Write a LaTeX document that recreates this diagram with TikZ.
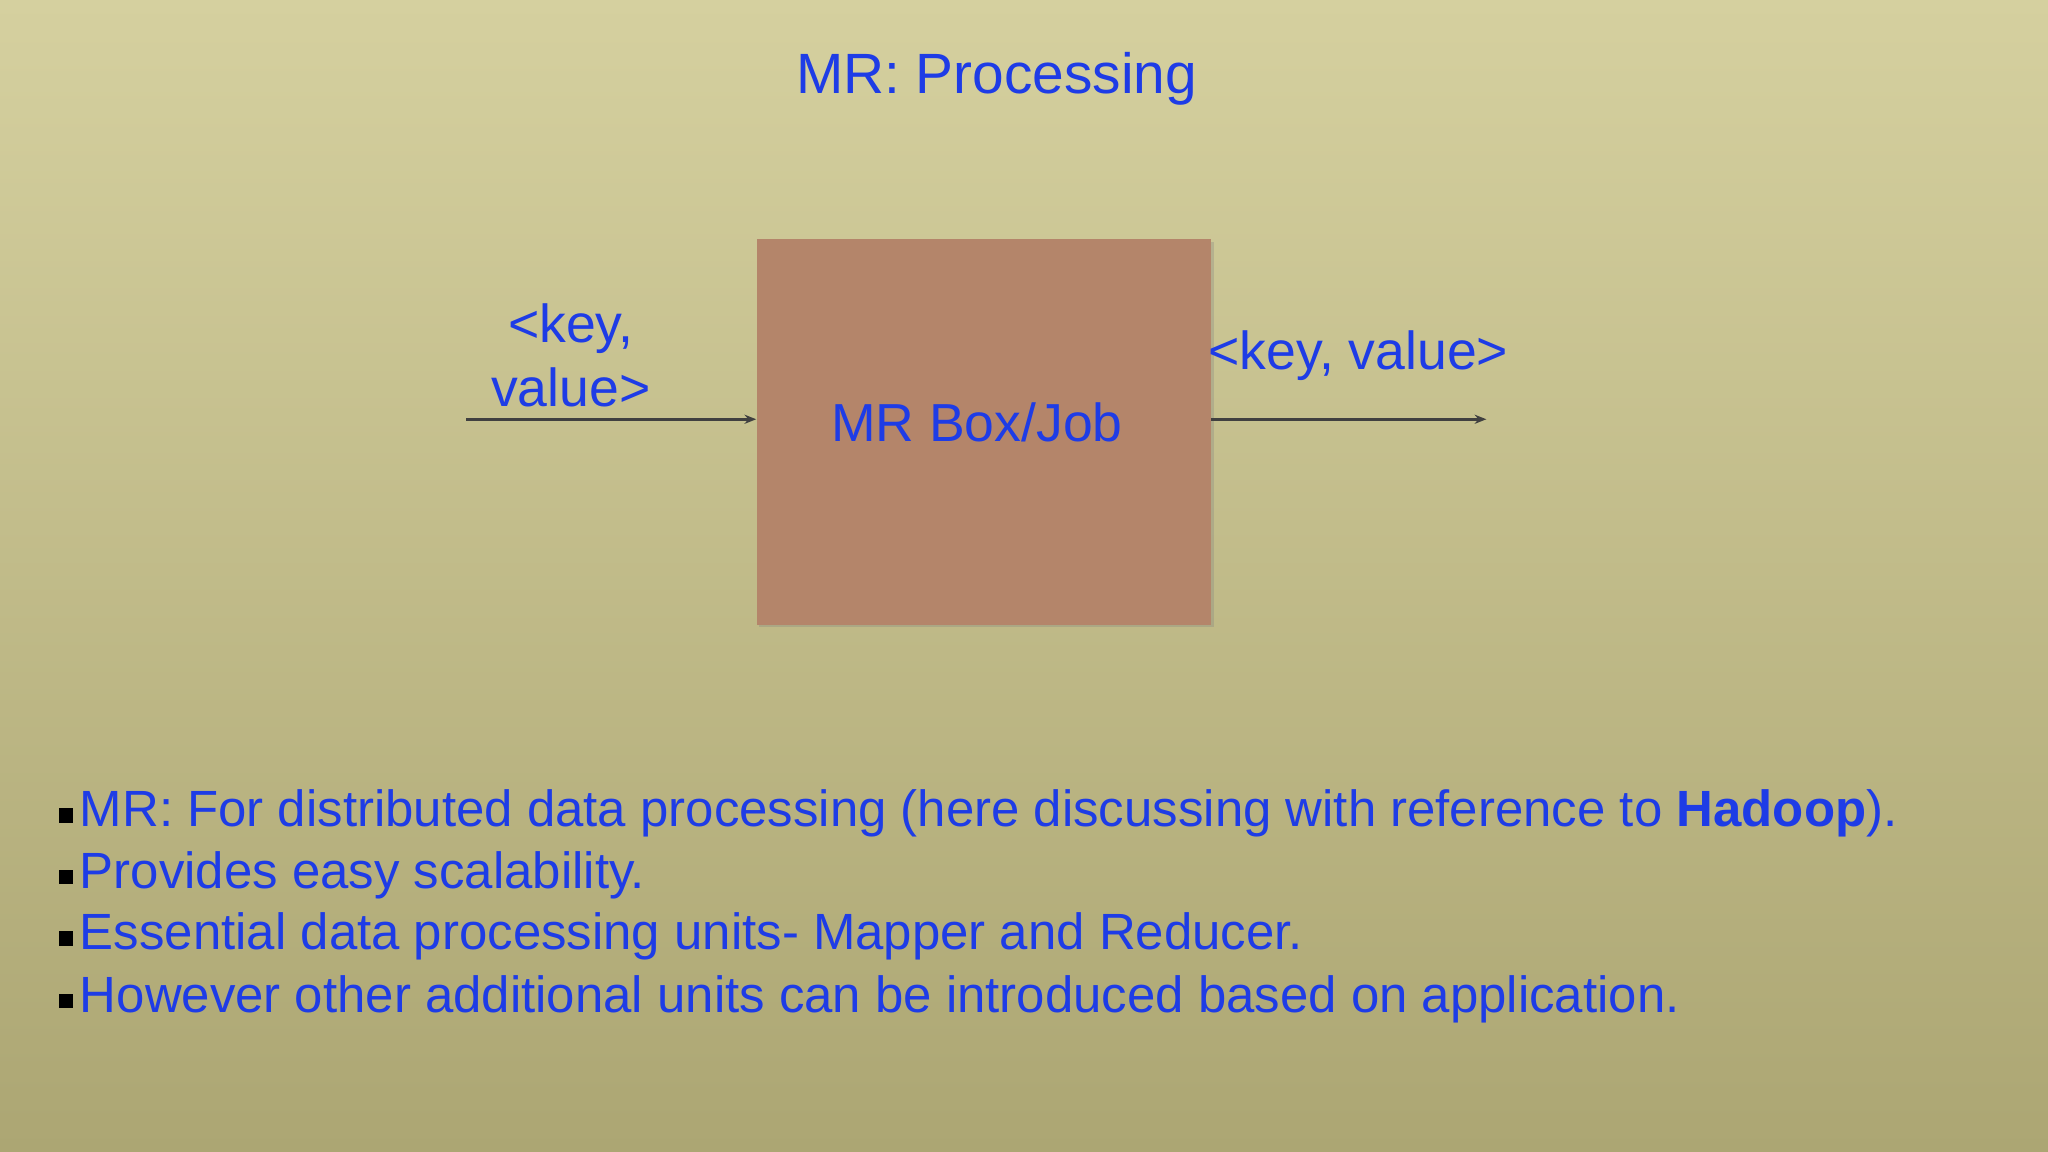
\documentclass[tikz,border=0pt]{standalone}
\usepackage{fontspec}
\setmainfont{Liberation Sans}
\usetikzlibrary{arrows.meta,shadows}
\definecolor{bgtop}{HTML}{D5D09F}
\definecolor{bgbot}{HTML}{ACA673}
\definecolor{boxc}{HTML}{B4856A}
\definecolor{txt}{HTML}{1E3CE6}
\definecolor{arr}{HTML}{404040}
\tikzset{
  lbl/.style={text=txt,font=\fontsize{41}{48}\selectfont,inner sep=0pt},
  bul/.style={text=txt,font=\fontsize{39}{45}\selectfont,anchor=base west,inner sep=0pt},
  conn/.style={draw=arr,line width=2pt,-{Stealth[length=9pt,width=7pt]}}
}
\begin{document}
\begin{tikzpicture}[x=1pt,y=-1pt]
\shade[top color=bgtop,bottom color=bgbot] (0,0) rectangle (1568,882);
\useasboundingbox (0,0) rectangle (1568,882);
\node[lbl,font=\fontsize{43.5}{50}\selectfont] (title) at (763,60) {MR: Processing};
\node[fill=boxc,minimum width=348pt,minimum height=295pt,anchor=north west,inner sep=0pt,
  drop shadow={shadow xshift=2pt,shadow yshift=-2pt,opacity=0.3}] (box) at (579,183) {};
\node[lbl] (boxt) at (748,323) {MR Box/Job};
\coordinate (inS) at (357,321);
\coordinate (outE) at (1138,321);
\draw[conn] (inS) -- (box.west |- inS);
\draw[conn] (box.east |- outE) -- (outE);
\node[lbl,align=center,font=\fontsize{41}{49}\selectfont] (inl) at (437,272) {<key,\\value>};
\node[lbl] (outl) at (1040,272) {<key, value>};
\foreach \y/\t [count=\i] in {
 633/{MR: For distributed data processing (here discussing with reference to \textbf{Hadoop}).},
 680/{Provides easy scalability.},
 727/{Essential data processing units- Mapper and Reducer.},
 775/{However other additional units can be introduced based on application.}}{
 \fill[black] (45,\y-14) rectangle (56,\y-3);
 \node[bul] (b\i) at (61,\y) {\t};
}
\end{tikzpicture}
\end{document}
